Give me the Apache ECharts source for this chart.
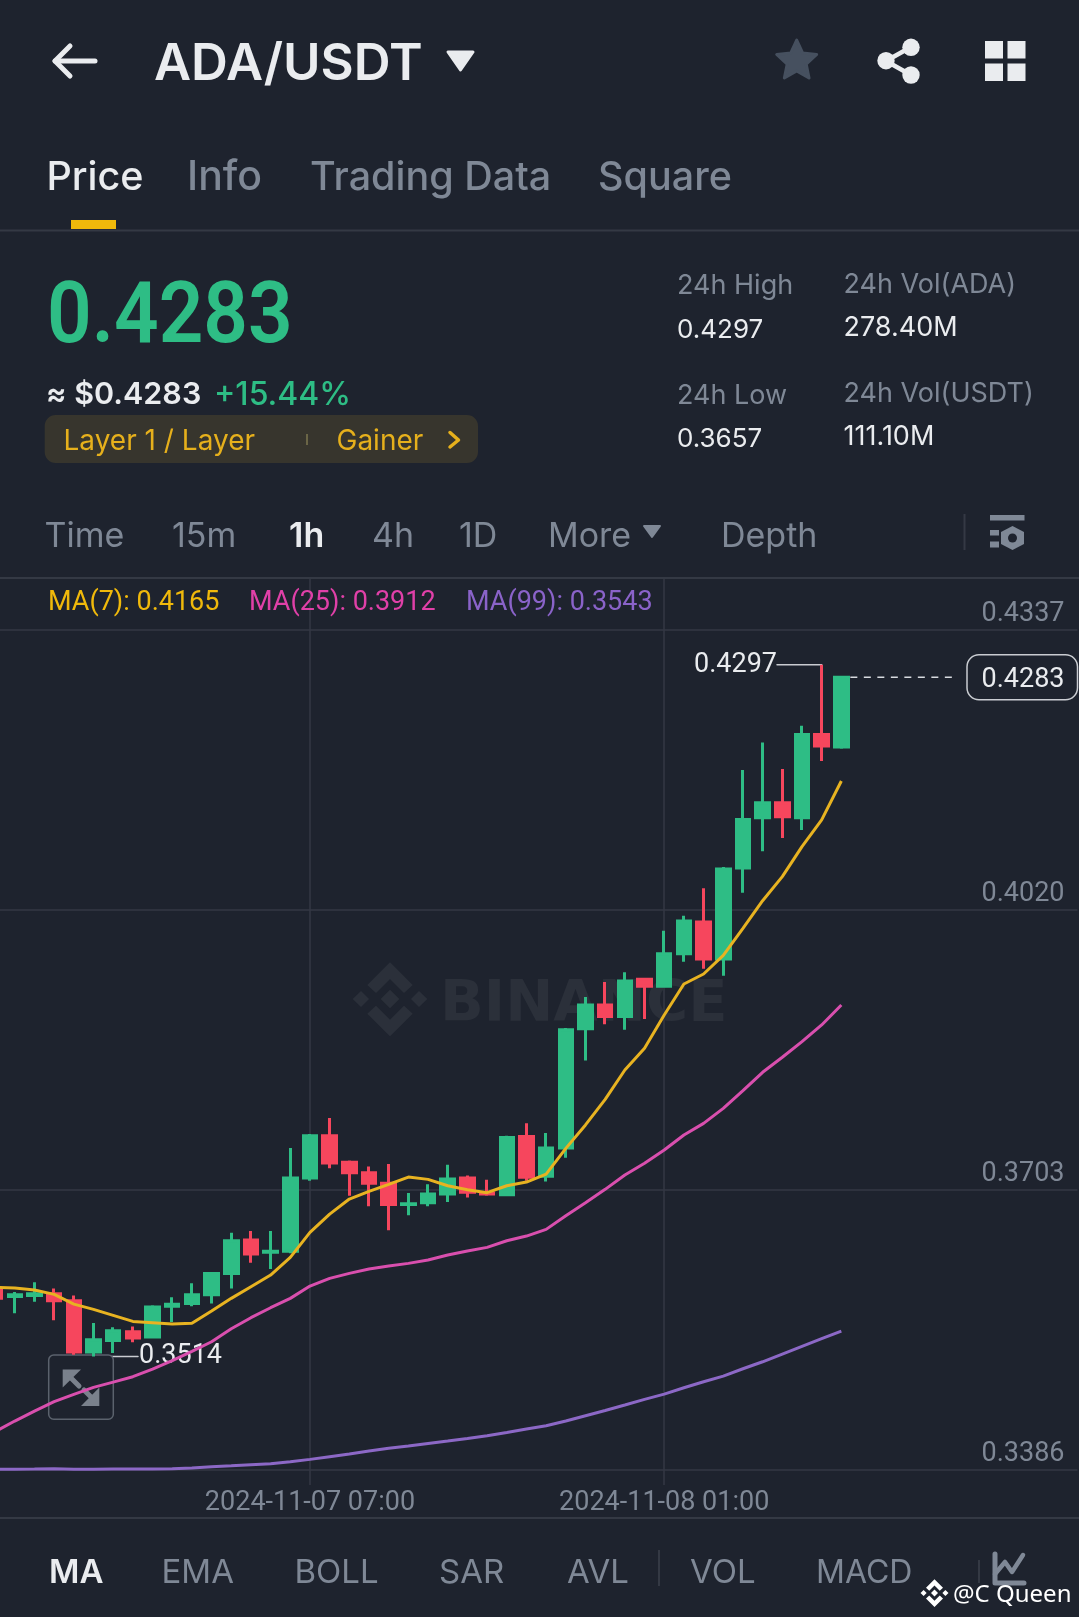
<!DOCTYPE html>
<html>
<head>
<meta charset="utf-8">
<title>ADA/USDT</title>
<script src="https://cdn.jsdelivr.net/npm/echarts@6/dist/echarts.min.js"></script>
<style>
  html, body { margin: 0; padding: 0; background: #1e232e; }
  #main { width: 1079px; height: 1617px; }
</style>
</head>
<body>
<div id="main"></div>
<script>
// hourly candles
const categories = [
  "2024-11-06 15:00", "2024-11-06 16:00", "2024-11-06 17:00", "2024-11-06 18:00", "2024-11-06 19:00", "2024-11-06 20:00", "2024-11-06 21:00", "2024-11-06 22:00",
  "2024-11-06 23:00", "2024-11-07 00:00", "2024-11-07 01:00", "2024-11-07 02:00", "2024-11-07 03:00", "2024-11-07 04:00", "2024-11-07 05:00", "2024-11-07 06:00",
  "2024-11-07 07:00", "2024-11-07 08:00", "2024-11-07 09:00", "2024-11-07 10:00", "2024-11-07 11:00", "2024-11-07 12:00", "2024-11-07 13:00", "2024-11-07 14:00",
  "2024-11-07 15:00", "2024-11-07 16:00", "2024-11-07 17:00", "2024-11-07 18:00", "2024-11-07 19:00", "2024-11-07 20:00", "2024-11-07 21:00", "2024-11-07 22:00",
  "2024-11-07 23:00", "2024-11-08 00:00", "2024-11-08 01:00", "2024-11-08 02:00", "2024-11-08 03:00", "2024-11-08 04:00", "2024-11-08 05:00", "2024-11-08 06:00",
  "2024-11-08 07:00", "2024-11-08 08:00", "2024-11-08 09:00", "2024-11-08 10:00", "2024-11-08 11:00", "2024-11-08 12:00", "2024-11-08 13:00", "2024-11-08 14:00",
  "2024-11-08 15:00", "2024-11-08 16:00", "2024-11-08 17:00", "2024-11-08 18:00", "2024-11-08 19:00", "2024-11-08 20:00", "2024-11-08 21:00", "2024-11-08 22:00"
];
const opens = [
  .3590, .3582, .3583, .3585, .3577, .3519, .3532, .3542, .3536, .3571, .3574,
  .3584, .3608, .3646, .3632, .3633, .3716, .3764, .3734, .3722, .3710, .3686,
  .3688, .3698, .3716, .3699, .3697, .3763, .3718, .3750, .3885, .3912, .3899,
  .3941, .3933, .3970, .4006, .3964, .4067, .4124, .4141, .4124, .4218, .4204
];
const closes = [
  .3580, .3584, .3585, .3577, .3519, .3533, .3543, .3535, .3570, .3573, .3584,
  .3608, .3645, .3630, .3633, .3716, .3764, .3733, .3722, .3710, .3686, .3687,
  .3698, .3715, .3700, .3698, .3762, .3717, .3750, .3884, .3912, .3899, .3939,
  .3933, .3970, .4007, .3964, .4066, .4122, .4141, .4125, .4218, .4205, .4283
];
const lows = [
  .3579, .3563, .3576, .3555, .3516, .3514, .3518, .3530, .3536, .3553, .3571,
  .3574, .3591, .3620, .3613, .3631, .3713, .3727, .3696, .3684, .3657, .3674,
  .3684, .3689, .3694, .3696, .3697, .3713, .3712, .3739, .3849, .3890, .3884,
  .3896, .3932, .3961, .3953, .3945, .4039, .4086, .4101, .4110, .4188, .4202
];
const highs = [
  .3591, .3587, .3598, .3591, .3583, .3552, .3547, .3548, .3572, .3581, .3597,
  .3608, .3654, .3656, .3656, .3750, .3766, .3784, .3736, .3729, .3732, .3699,
  .3709, .3731, .3719, .3714, .3764, .3778, .3767, .3886, .3921, .3938, .3949,
  .3942, .3996, .4013, .4044, .4068, .4178, .4209, .4179, .4228, .4297, .4283
];
const ma7 = [
  .35922, .35915, .35892, .35843, .35733, .35673, .35605, .35537, .35522, .35507, .35515,
  .35654, .35798, .35930, .36062, .36262, .36545, .36752, .36922, .37009, .37088, .37171,
  .37145, .37073, .37028, .36994, .37073, .37115, .37205, .37496, .37761, .38051, .38383,
  .38629, .39006, .39357, .39470, .39680, .39987, .40300, .40572, .40912, .41214, .41655
];
const ma25 = [
  .34288, .34409, .34522, .34628, .34711, .34790, .34850, .34911, .34997, .35092, .35198,
  .35307, .35454, .35579, .35692, .35798, .35937, .36024, .36081, .36130, .36164, .36194,
  .36232, .36288, .36334, .36375, .36450, .36503, .36579, .36734, .36881, .37032, .37194,
  .37327, .37477, .37647, .37779, .37949, .38149, .38357, .38527, .38704, .38893, .39119
];
const ma99 = [
  .33862, .33864, .33866, .33869, .33862, .33862, .33866, .33866, .33867, .33869, .33877,
  .33892, .33903, .33915, .33926, .33949, .33975, .34005, .34035, .34069, .34100, .34126,
  .34156, .34183, .34212, .34243, .34280, .34318, .34356, .34409, .34469, .34529, .34590,
  .34654, .34714, .34786, .34854, .34918, .35001, .35080, .35167, .35254, .35341, .35428
];
const yTicks = [0.3386, 0.3703, 0.4020, 0.4337];
const xTickLabels = ["2024-11-07 07:00", "2024-11-08 01:00"];
const lastPrice = 0.4283, highPrice = 0.4297, lowPrice = 0.3514;

const BG = "#1e232e", LINE = "#343944", GREY = "#7f8896", WHITE = "#eaecef";
const GREEN = "#2ebd85", RED = "#f6465d", GOLD = "#f0b90b";
const UI = "Inter, sans-serif", NUM = "Roboto, sans-serif";

var myChart = echarts.init(document.getElementById("main"));

const isLabelled = (i) => xTickLabels.includes(categories[i]);

var option = {
  animation: false,
  backgroundColor: BG,
  // first candle hangs off the left edge of the screen
  grid: { left: -4.9, top: 578, width: 1082.4, height: 907, outerBoundsMode: "none" },
  xAxis: {
    type: "category",
    data: categories,
    boundaryGap: false,
    axisLine: { show: false },
    axisTick: { show: false },
    axisLabel: {
      interval: (i) => isLabelled(i),
      color: GREY,
      fontFamily: NUM,
      fontSize: 27,
      margin: 5,
    },
    splitLine: {
      show: true,
      interval: (i) => isLabelled(i),
      lineStyle: { color: LINE, width: 1.5 },
    },
  },
  yAxis: {
    type: "value",
    position: "right",
    min: 0.33685,
    max: 0.43953,
    scale: true,
    axisLine: { show: false },
    axisTick: { show: false, customValues: yTicks },
    axisLabel: {
      customValues: yTicks,
      inside: true,
      margin: 13,
      verticalAlign: "bottom",
      padding: [0, 0, 2, 0],
      formatter: (v) => v.toFixed(4),
      color: GREY,
      fontFamily: NUM,
      fontSize: 27,
    },
    splitLine: { show: true, lineStyle: { color: LINE, width: 1.5 } },
  },
  series: [
    {
      type: "candlestick",
      barWidth: 14,
      data: opens.map((o, i) => [o, closes[i], lows[i], highs[i]]),
      itemStyle: {
        color: GREEN,
        color0: RED,
        borderColor: GREEN,
        borderColor0: RED,
        borderWidth: 3,
      },
    },
    { type: "line", data: ma99, showSymbol: false, lineStyle: { color: "#8c68c6", width: 3 } },
    { type: "line", data: ma25, showSymbol: false, lineStyle: { color: "#d94fae", width: 3 } },
    { type: "line", data: ma7, showSymbol: false, lineStyle: { color: "#e8b321", width: 3 } },
  ],
};
myChart.setOption(option);

// --- app chrome around the chart ---
function txt(x, y, text, size, fill, weight, family, align, z) {
  return {
    type: "text", x: x, y: y + 2, z: z || 10,
    style: {
      text: text, fill: fill,
      font: (weight || 400) + " " + size + "px " + (family || UI),
      textAlign: align || "left", textVerticalAlign: "middle",
    },
  };
}
function poly(points, fill, z) {
  return { type: "polygon", z: z || 10, shape: { points: points }, style: { fill: fill } };
}
function stroke(points, color, width, z) {
  return {
    type: "polyline", z: z || 10, shape: { points: points },
    style: { stroke: color, lineWidth: width, fill: null, lineJoin: "round", lineCap: "round" },
  };
}
function box(x, y, w, h, fill, r, z) {
  return { type: "rect", z: z || 10, shape: { x: x, y: y, width: w, height: h, r: r || 0 }, style: { fill: fill } };
}
function dot(cx, cy, r, fill) {
  return { type: "circle", z: 10, shape: { cx: cx, cy: cy, r: r }, style: { fill: fill } };
}
// Binance mark, drawn from outline points measured on a 222 unit wide logo
function logo(cx, cy, k, fill, z) {
  const shapes = [
    [[0, -110], [68, -42], [42, -18], [0, -60], [-42, -18], [-68, -42]],
    [[0, 112], [68, 44], [42, 20], [0, 62], [-42, 20], [-68, 44]],
    [[0, -28], [28, 0], [0, 28], [-28, 0]],
    [[-112, 0], [-87, -24], [-63, 0], [-87, 24]],
    [[112, 0], [87, -24], [63, 0], [87, 24]],
  ];
  return shapes.map((s) => poly(s.map((p) => [cx + p[0] * k, cy + p[1] * k]), fill, z));
}
function starPoints(cx, cy, r, r0) {
  const pts = [];
  for (let i = 0; i < 10; i++) {
    const a = -Math.PI / 2 + (i * Math.PI) / 5, d = i % 2 ? r0 : r;
    pts.push([cx + d * Math.cos(a), cy + d * Math.sin(a)]);
  }
  return pts;
}

const yLast = myChart.convertToPixel({ yAxisIndex: 0 }, lastPrice);
const yHigh = myChart.convertToPixel({ yAxisIndex: 0 }, highPrice);
const yLow = myChart.convertToPixel({ yAxisIndex: 0 }, lowPrice);
const xLastBar = myChart.convertToPixel({ xAxisIndex: 0 }, closes.length - 1);
const xHighBar = myChart.convertToPixel({ xAxisIndex: 0 }, highs.indexOf(highPrice));
const xLowBar = myChart.convertToPixel({ xAxisIndex: 0 }, lows.indexOf(lowPrice));

const elements = [
  // watermark, under the candles
  ...logo(390, 999, 1 / 3, "#2b303a", 1),
  txt(440, 1004, "BINANCE", 57.5, "#2b303a", 700, "'DejaVu Sans'", "left", 1),

  // header
  stroke([[70, 46], [55, 61], [70, 76]], WHITE, 5),
  stroke([[55, 61], [95, 61]], WHITE, 5),
  txt(154, 63, "ADA/USDT", 51, WHITE, 600),
  { type: "polygon", z: 10, shape: { points: [[448, 52], [473, 52], [460.5, 70]] }, style: { fill: WHITE, stroke: WHITE, lineWidth: 3, lineJoin: "round" } },
  { type: "polygon", z: 10, shape: { points: starPoints(796.7, 61, 21, 10) }, style: { fill: "#46505f", stroke: "#46505f", lineWidth: 3, lineJoin: "round" } },
  stroke([[911, 47], [886, 61], [911, 75]], WHITE, 4.5),
  dot(911, 47.3, 8.7, WHITE), dot(886, 60.7, 8.7, WHITE), dot(911, 75, 8.7, WHITE),
  box(985, 41, 18, 17.5, WHITE), box(1007.5, 41, 18, 17.5, WHITE),
  box(985, 63.5, 18, 17.5, WHITE), box(1007.5, 63.5, 18, 17.5, WHITE),

  // tabs
  txt(46.5, 176, "Price", 39.5, WHITE, 500),
  txt(187, 176, "Info", 41, GREY, 500),
  txt(310, 176, "Trading Data", 39.5, GREY, 500),
  txt(598, 176, "Square", 39.5, GREY, 500),
  box(71, 220, 45, 9, GOLD),
  box(0, 229.5, 1079, 2, LINE),

  // price block, digits narrower than any installed font so squeeze a little
  Object.assign(txt(47, 318, "0.4283", 86, GREEN, 600, NUM), { scaleX: 0.91, originX: 0 }),
  txt(46, 393, "≈ $0.4283", 30.5, WHITE, 600),
  txt(214, 393, "+15.44%", 32, GREEN, 500),
  box(44.7, 415, 433.3, 48, "#37352d", 11),
  txt(63.5, 440, "Layer 1 / Layer", 28, "#e6b01c", 400),
  box(306, 434, 2, 11, "#6a6546"),
  txt(336.5, 440, "Gainer", 28, "#e6b01c", 400),
  stroke([[450, 432.5], [458.5, 440], [450, 447]], "#e6b01c", 3.5),

  // 24h stats
  txt(677, 284, "24h High", 27, GREY),
  txt(677, 328, "0.4297", 26, WHITE),
  txt(843.5, 283, "24h Vol(ADA)", 27, GREY),
  txt(843.5, 326, "278.40M", 27, WHITE),
  txt(677, 394, "24h Low", 27, GREY),
  txt(677, 437, "0.3657", 26, WHITE),
  txt(843.5, 392, "24h Vol(USDT)", 27, GREY),
  txt(843.5, 434.5, "111.10M", 27, WHITE),

  // interval row
  txt(44.5, 535, "Time", 34, GREY),
  txt(172, 535, "15m", 34, GREY),
  txt(289, 535, "1h", 34, WHITE, 600),
  txt(372, 535, "4h", 34, GREY),
  txt(459, 535, "1D", 34, GREY),
  txt(548, 535, "More", 34, GREY),
  { type: "polygon", z: 10, shape: { points: [[644, 526], [660, 526], [652, 537]] }, style: { fill: GREY, stroke: GREY, lineWidth: 2, lineJoin: "round" } },
  txt(721, 535, "Depth", 34, GREY),
  box(963.5, 514, 2, 36, LINE),
  box(990, 515, 34.5, 5.5, GREY),
  box(990, 530, 9, 5.5, GREY), box(990, 541.5, 9, 6, GREY),
  poly([[1012.5, 526], [1024, 532], [1024, 544], [1012.5, 550], [1001, 544], [1001, 532]], GREY),
  dot(1012.5, 538, 4.5, BG),

  // separators and MA legend
  box(0, 577, 1079, 2, LINE),
  box(0, 1517, 1079, 2, LINE),
  txt(48, 601.5, "MA(7): 0.4165", 27, "#f0b90b", 400, NUM),
  txt(249, 601.5, "MA(25): 0.3912", 27, "#e040a8", 400, NUM),
  txt(466, 601.5, "MA(99): 0.3543", 27, "#8a63c9", 400, NUM),

  // last price marker
  {
    type: "line", z: 10,
    shape: { x1: xLastBar + 9, y1: yLast, x2: 953, y2: yLast },
    style: { stroke: "#d8dbe0", lineWidth: 1.5, lineDash: [7, 6.5] },
  },
  {
    type: "rect", z: 10,
    shape: { x: 967, y: yLast - 22.5, width: 110.5, height: 45, r: 12 },
    style: { fill: BG, stroke: "#c9ccd1", lineWidth: 1.5 },
  },
  txt(1023, yLast + 1, "0.4283", 27, WHITE, 400, NUM, "center"),

  // high / low markers
  stroke([[777, yHigh], [xHighBar, yHigh]], "#c9ccd1", 1.5, 1),
  txt(694, yHigh - 2, "0.4297", 27, WHITE, 400, NUM),
  stroke([[xLowBar, yLow], [138, yLow]], "#c9ccd1", 1.5, 1),
  txt(139, yLow - 2, "0.3514", 27, WHITE, 400, NUM, "left", 1),

  // expand button, under the MA lines
  { type: "rect", z: 1, shape: { x: 48.7, y: 1355, width: 64.6, height: 64.3, r: 5 }, style: { fill: BG, stroke: "#5b626d", lineWidth: 1.5 } },
  poly([[62.7, 1369.5], [81, 1369.5], [62.7, 1387.5]], "#7a818c", 1),
  stroke([[68, 1375], [79, 1386]], "#7a818c", 5, 1),
  poly([[99.3, 1406], [81, 1406], [99.3, 1387.5]], "#7a818c", 1),
  stroke([[94, 1400], [84, 1390]], "#7a818c", 5, 1),

  // indicator row
  txt(49, 1571, "MA", 33, WHITE, 600),
  txt(161.5, 1571, "EMA", 33, GREY),
  txt(294.5, 1571, "BOLL", 33, GREY),
  txt(439, 1571, "SAR", 33, GREY),
  txt(567, 1571, "AVL", 33, GREY),
  box(658, 1550, 2, 36, LINE),
  txt(690, 1571, "VOL", 33, GREY),
  txt(816, 1571, "MACD", 32, GREY),
  box(978, 1560, 2, 23, LINE),
  stroke([[995, 1554], [995, 1583], [1024, 1583]], GREY, 5),
  stroke([[995, 1574], [1005, 1562], [1012, 1572], [1023, 1555]], GREY, 4.5),

  // user stamp
  ...logo(934.5, 1593, 0.125, "#ffffff"),
  txt(953, 1593, "@C Queen", 24, "#ffffff", 400, "'Noto Sans', sans-serif"),
];
myChart.setOption({ graphic: { elements: elements } });
</script>
</body>
</html>
